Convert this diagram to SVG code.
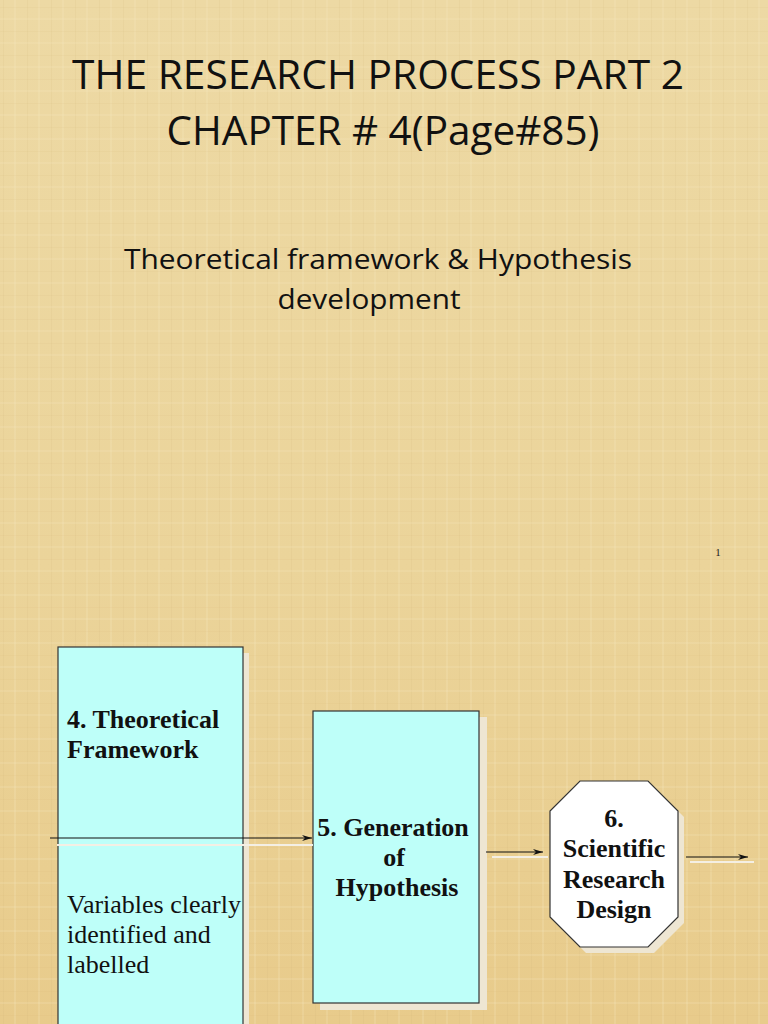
<svg xmlns="http://www.w3.org/2000/svg" width="768" height="1024" viewBox="0 0 768 1024">
<defs>
<style>
.title{font-family:"Open Sans","Liberation Sans",sans-serif;font-size:40px;fill:#111;}
.sub{font-family:"Open Sans","Liberation Sans",sans-serif;font-size:28px;fill:#111;}
.b{font-family:"Liberation Serif","Times New Roman",serif;font-weight:bold;font-size:26px;fill:#111;}
.r{font-family:"Liberation Serif","Times New Roman",serif;font-size:26px;fill:#111;}
.box{fill:#BEFFF9;stroke:#333;stroke-width:1.2;}
.shadow{fill:#EEE6D3;}
.con{stroke:#111;stroke-width:1.2;fill:none;}
.conshadow{stroke:#F4EFE4;stroke-width:2;fill:none;}
</style>
<marker id="ah" viewBox="0 0 10 6" refX="10" refY="3" markerWidth="10" markerHeight="6" markerUnits="userSpaceOnUse" orient="auto">
<path d="M0,0 L10,3 L0,6 L3,3 Z" fill="#111"/>
</marker>
<linearGradient id="bg" x1="0" y1="0" x2="0" y2="1">
<stop offset="0" stop-color="#EDD9A4"/>
<stop offset="0.55" stop-color="#EBD49A"/>
<stop offset="1" stop-color="#E8CB8B"/>
</linearGradient>
<pattern id="tex" width="24" height="24" patternUnits="userSpaceOnUse">
<rect x="3" y="0" width="1" height="24" fill="#C9A86A" opacity="0.1"/>
<rect x="14" y="0" width="2" height="24" fill="#F5E6BE" opacity="0.22"/>
<rect x="0" y="7" width="24" height="1" fill="#C9A86A" opacity="0.08"/>
<rect x="0" y="18" width="24" height="2" fill="#F5E6BE" opacity="0.2"/>
</pattern>
</defs>
<rect width="768" height="1024" fill="url(#bg)"/>
<rect width="768" height="1024" fill="url(#tex)"/>

<g id="title">
<text class="title" x="378" y="89" text-anchor="middle" textLength="612" lengthAdjust="spacingAndGlyphs">THE RESEARCH PROCESS PART 2</text>
<text class="title" x="383" y="145" text-anchor="middle" textLength="433" lengthAdjust="spacingAndGlyphs">CHAPTER # 4(Page#85)</text>
</g>
<g id="subtitle">
<text class="sub" x="378" y="269" text-anchor="middle" textLength="508" lengthAdjust="spacingAndGlyphs">Theoretical framework &amp; Hypothesis</text>
<text class="sub" x="369" y="309" text-anchor="middle" textLength="183" lengthAdjust="spacingAndGlyphs">development</text>
</g>
<g id="page-number">
<text x="718" y="556" font-family="Liberation Serif,serif" font-size="11" fill="#222" text-anchor="middle">1</text>
</g>

<g id="node4">
<rect class="shadow" x="243" y="653" width="6" height="371"/>
<rect class="box" x="58" y="647" width="185" height="390"/>
<text class="b" x="67" y="728">4. Theoretical</text>
<text class="b" x="67" y="758">Framework</text>
<text class="r" x="67" y="913">Variables clearly</text>
<text class="r" x="67" y="943">identified and</text>
<text class="r" x="67" y="973">labelled</text>
</g>

<g id="node5">
<rect class="shadow" x="320" y="717" width="167" height="293"/>
<rect class="box" x="313" y="711" width="166" height="292"/>
<text class="b" x="393" y="836" text-anchor="middle">5. Generation</text>
<text class="b" x="394" y="866" text-anchor="middle">of</text>
<text class="b" x="397" y="896" text-anchor="middle">Hypothesis</text>
</g>

<g id="node6">
<polygon class="shadow" points="586,787 654,787 684,817 684,923 654,953 586,953 556,923 556,817"/>
<polygon points="580,781 648,781 678,811 678,917 648,947 580,947 550,917 550,811" fill="#FFFFFF" stroke="#333" stroke-width="1.2"/>
<text class="b" x="614" y="827" text-anchor="middle">6.</text>
<text class="b" x="614" y="857" text-anchor="middle">Scientific</text>
<text class="b" x="614" y="888" text-anchor="middle">Research</text>
<text class="b" x="614" y="918" text-anchor="middle">Design</text>
</g>

<g id="connectors">
<line class="conshadow" x1="57" y1="845" x2="313" y2="845"/>
<line class="con" x1="50" y1="838" x2="312" y2="838" marker-end="url(#ah)"/>
<line class="conshadow" x1="492" y1="857" x2="548" y2="857"/>
<line class="con" x1="486" y1="852" x2="543" y2="852" marker-end="url(#ah)"/>
<line class="conshadow" x1="690" y1="862" x2="754" y2="862"/>
<line class="con" x1="686" y1="857" x2="748" y2="857" marker-end="url(#ah)"/>
</g>
</svg>
